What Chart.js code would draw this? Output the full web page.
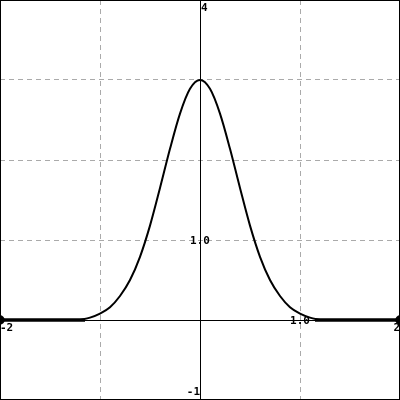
<!DOCTYPE html>
<html>
<head>
<meta charset="utf-8">
<script src="https://cdn.jsdelivr.net/npm/chart.js@4/dist/chart.umd.min.js"></script>
<style>
  html, body { margin: 0; padding: 0; background: #fff; }
  #wrap { width: 400px; height: 400px; }
</style>
</head>
<body>
<div id="wrap"><canvas id="myChart" width="400" height="400"></canvas></div>
<script>
// values
const xs = [-1.2, -1.1, -1.0, -0.9, -0.8, -0.7, -0.6, -0.5, -0.4, -0.3, -0.2, -0.1, 0,
            0.1, 0.2, 0.3, 0.4, 0.5, 0.6, 0.7, 0.8, 0.9, 1.0, 1.1, 1.2];
const ys = [0.0, 0.03, 0.08, 0.16, 0.3, 0.5, 0.79, 1.18, 1.65, 2.14, 2.58, 2.89, 3.0,
            2.89, 2.58, 2.14, 1.65, 1.18, 0.79, 0.5, 0.3, 0.16, 0.08, 0.03, 0.0];
const flatLeft = [[-2, 0], [-1.15, 0]];
const flatRight = [[1.15, 0], [2, 0]];
const xRange = [-2, 2];
const yRange = [-1, 4];
const xTickLabels = [[-2, "-2"], [1, "1.0"], [2, "2"]];
const yTickLabels = [[4, "4"], [1, "1.0"], [-1, "-1"]];

const curve = xs.map((x, i) => ({ x: x, y: ys[i] }));
const toPts = arr => arr.map(p => ({ x: p[0], y: p[1] }));

// dashed grid everywhere except the axes and the frame
const gridColorFor = range => ctx => {
  const v = ctx.tick ? ctx.tick.value : null;
  if (v === null || v === 0 || v === range[0] || v === range[1]) return "rgba(0,0,0,0)";
  return "#aaaaaa";
};

const axesPlugin = {
  id: "axes",
  afterDraw(chart) {
    const c = chart.ctx;
    const sx = chart.scales.x, sy = chart.scales.y;
    const x0 = Math.round(sx.getPixelForValue(0)), y0 = Math.round(sy.getPixelForValue(0));
    const w = chart.width, h = chart.height;
    c.save();
    c.fillStyle = "#000";
    // axes through the origin
    c.fillRect(x0, 0, 1, h);
    c.fillRect(0, y0, w, 1);
    // frame
    c.fillRect(0, 0, w, 1);
    c.fillRect(0, h - 1, w, 1);
    c.fillRect(0, 0, 1, h);
    c.fillRect(w - 1, 0, 1, h);

    c.font = "bold 11px 'DejaVu Sans Mono'";
    c.textBaseline = "middle";
    xTickLabels.forEach(([v, t]) => {
      const px = sx.getPixelForValue(v);
      if (v === xRange[0]) c.textAlign = "left";
      else if (v === xRange[1]) c.textAlign = "right";
      else c.textAlign = "center";
      c.fillText(t, px, y0 + (v === 1 ? 1 : 8));
    });
    yTickLabels.forEach(([v, t]) => {
      const py = sy.getPixelForValue(v);
      if (v === yRange[1]) { c.textAlign = "left"; c.fillText(t, x0 + 1, py + 8); }
      else if (v === yRange[0]) { c.textAlign = "right"; c.fillText(t, x0, py - 8); }
      else { c.textAlign = "center"; c.fillText(t, x0, py + 1); }
    });
    c.restore();
  }
};

new Chart("myChart", {
  type: "scatter",
  data: {
    datasets: [
      {
        data: curve,
        showLine: true,
        borderColor: "#000",
        borderWidth: 2,
        pointRadius: 0,
        cubicInterpolationMode: "monotone",
        fill: false,
      },
      {
        data: toPts(flatLeft),
        showLine: true,
        borderColor: "#000",
        backgroundColor: "#000",
        borderWidth: 3.5,
        pointRadius: [3, 0],
      },
      {
        data: toPts(flatRight),
        showLine: true,
        borderColor: "#000",
        backgroundColor: "#000",
        borderWidth: 3.5,
        pointRadius: [0, 3],
      },
    ],
  },
  options: {
    responsive: false,
    animation: false,
    layout: { padding: 0, autoPadding: false },
    plugins: { legend: { display: false }, tooltip: { enabled: false }, title: { display: false } },
    scales: {
      x: {
        type: "linear",
        min: xRange[0],
        max: xRange[1],
        ticks: { display: false, stepSize: 1 },
        border: { display: false, dash: [5, 4] },
        grid: { color: gridColorFor(xRange), drawTicks: false, tickLength: 0 },
      },
      y: {
        type: "linear",
        min: yRange[0],
        max: yRange[1],
        ticks: { display: false, stepSize: 1 },
        border: { display: false, dash: [5, 4] },
        grid: { color: gridColorFor(yRange), drawTicks: false, tickLength: 0 },
      },
    },
  },
  plugins: [axesPlugin],
});
</script>
</body>
</html>
